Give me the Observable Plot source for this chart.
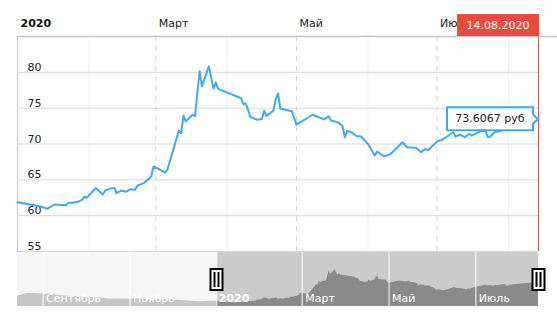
<!DOCTYPE html>
<html><head><meta charset="utf-8">
<script src="https://cdn.jsdelivr.net/npm/d3@7"></script>
<script src="https://cdn.jsdelivr.net/npm/@observablehq/plot@0.6"></script>
<style>
html,body{margin:0;padding:0;background:#fff;}
#wrap{position:relative;width:557px;height:319px;overflow:hidden;font-family:"DejaVu Sans",Verdana,sans-serif;}
#wrap svg{position:absolute;left:0;overflow:visible;}
</style></head><body><div id="wrap"></div>
<script>
// ---- data ----
const dates = ["2020-01-01","2020-01-07","2020-01-11","2020-01-14","2020-01-17","2020-01-22","2020-01-23","2020-01-25","2020-01-27","2020-01-29","2020-01-30","2020-01-31",
"2020-02-01","2020-02-04","2020-02-07","2020-02-08","2020-02-10","2020-02-12","2020-02-13","2020-02-15","2020-02-17","2020-02-19","2020-02-21","2020-02-22","2020-02-25","2020-02-27","2020-02-28","2020-02-29",
"2020-03-03","2020-03-05","2020-03-06","2020-03-11","2020-03-12","2020-03-13","2020-03-14","2020-03-17","2020-03-18","2020-03-20","2020-03-21","2020-03-24","2020-03-26","2020-03-27","2020-03-28",
"2020-04-07","2020-04-08","2020-04-09","2020-04-11","2020-04-14","2020-04-16","2020-04-17","2020-04-18","2020-04-21","2020-04-22","2020-04-23","2020-04-24","2020-04-29",
"2020-05-01","2020-05-08","2020-05-13","2020-05-15","2020-05-16","2020-05-19","2020-05-21","2020-05-22","2020-05-23","2020-05-25","2020-05-27","2020-05-29",
"2020-06-01","2020-06-04","2020-06-05","2020-06-08","2020-06-11","2020-06-16","2020-06-18","2020-06-22","2020-06-24","2020-06-26","2020-06-27",
"2020-07-01","2020-07-03","2020-07-06","2020-07-08","2020-07-09","2020-07-11","2020-07-13","2020-07-15","2020-07-16","2020-07-20","2020-07-22","2020-07-23","2020-07-24","2020-07-26","2020-07-28","2020-07-31",
"2020-08-04","2020-08-07","2020-08-11","2020-08-13","2020-08-14"];
const values = [61.88,61.51,61.28,60.96,61.56,61.46,61.79,61.79,61.93,62.21,62.67,62.49,
62.85,63.83,62.95,63.51,63.74,63.88,63.13,63.51,63.33,63.69,63.61,64.2,64.58,65.14,65.46,66.86,
66.39,66.0,66.4,71.88,71.5,73.97,73.17,74.07,73.9,80.15,78.05,80.83,77.73,78.6,77.69,
76.38,75.53,75.68,73.79,73.37,73.5,74.66,73.9,74.66,76.23,77.04,74.94,74.58,
72.71,74.08,73.44,73.87,73.27,73.02,72.5,70.94,71.83,71.6,71.11,71.04,
70.02,68.39,68.95,68.25,68.63,70.24,69.55,69.46,68.85,69.32,69.09,
70.37,70.55,71.18,71.64,71.04,71.32,70.94,71.42,71.18,71.78,71.88,70.94,71.04,71.64,71.78,72.2,
72.4,72.6,72.9,73.2,73.6067];
const navDates = ["2019-08-14","2019-08-21","2019-08-28","2019-09-05","2019-09-17","2019-10-01","2019-10-10","2019-10-17","2019-11-01","2019-11-08","2019-11-15","2019-11-25","2019-12-01","2019-12-10","2019-12-20","2019-12-27"];
const navValues = [65.1,66.6,66.4,66.1,65.1,64.4,64.0,63.3,63.2,63.5,62.6,62.9,62.7,62.2,61.6,61.9];
const yTicks = [55,60,65,70,75,80];
const monthTicks = ["2020-03-01","2020-05-01","2020-07-01"];
const monthLabels = ["Март","Май","Июль"];
const yearTick = "2020-01-01";
const yearLabel = "2020";
const minorTicks = ["2020-02-01","2020-04-01","2020-06-01","2020-08-01"];
const navTicks = ["2019-09-01","2019-11-01","2020-03-01","2020-05-01","2020-07-01"];
const navLabels = ["Сентябрь","Ноябрь","Март","Май","Июль"];
const unit = "руб";
const lastLabel = "14.08.2020";

// ---- build ----
const parse = d3.utcParse("%Y-%m-%d");
const data = dates.map((d,i)=>({date: parse(d), value: values[i]}));
const last = data[data.length-1];
const xDomain = [parse("2020-01-01"), parse("2020-08-14")];
const FONT = "DejaVu Sans, Verdana, sans-serif";
const LINE = "#41aaea", RED = "#e84c3d";

const main = Plot.plot({
  width: 557, height: 252, marginTop: 36, marginLeft: 17, marginRight: 19, marginBottom: 1,
  x: {type: "utc", domain: xDomain, axis: null},
  y: {domain: [55, 85], axis: null},
  style: {fontFamily: FONT, fontSize: "11px", background: "transparent", overflow: "visible"},
  marks: [
    Plot.ruleX(minorTicks.map(parse), {stroke: "#f1f1f1"}),
    Plot.ruleX(monthTicks.map(parse), {stroke: "#d4d4d4", strokeDasharray: "5,5"}),
    Plot.ruleY(yTicks, {stroke: "#d8d8d8"}),
    Plot.ruleX([xDomain[0]], {stroke: "#cfcfcf"}),
    Plot.text(yTicks, {x: xDomain[0], y: d => d, text: d => String(d), dx: 10, dy: -1.5, textAnchor: "start", lineAnchor: "bottom", fill: "#222"}),
    Plot.text([parse(yearTick)], {x: d => d, frameAnchor: "top", dy: -9.5, dx: 3, text: () => yearLabel, textAnchor: "start", lineAnchor: "bottom", fontWeight: "bold", fill: "#111"}),
    Plot.text(monthTicks.map(parse), {x: d => d, frameAnchor: "top", dy: -9.5, dx: 3, text: (d, i) => monthLabels[i], textAnchor: "start", lineAnchor: "bottom", fill: "#222"}),
    Plot.lineY(data, {x: "date", y: "value", stroke: LINE, strokeWidth: 2}),
    Plot.ruleX([xDomain[1]], {stroke: RED})
  ]
});
main.style.top = "0px";

// overlays positioned through the chart's own scales
{
  const sx = main.scale("x"), sy = main.scale("y");
  const px = sx.apply(last.date), py = sy.apply(last.value);
  const s = d3.select(main);
  const topY = sy.apply(85);
  s.append("line").attr("x1", sx.apply(xDomain[0])).attr("x2", 557).attr("y1", topY + 0.5).attr("y2", topY + 0.5)
    .attr("stroke", "#c4c4c4").attr("stroke-width", 1.5);
  // date label
  const g = s.append("g");
  g.append("rect").attr("x", px - 81).attr("y", topY - 22).attr("width", 82).attr("height", 22).attr("fill", RED);
  g.append("text").attr("x", px - 40).attr("y", topY - 7).attr("text-anchor", "middle").attr("fill", "#fff")
    .attr("font-family", FONT).attr("font-size", 11).text(lastLabel);
  // value tooltip
  const x0 = px - 91, x1 = px - 5, y0 = py - 10.5, y1 = py + 12.5, cy = py + 1.5;
  const t = s.append("g");
  t.append("path").attr("d", `M${x0},${y0}H${x1}V${cy-4.5}L${px},${cy}L${x1},${cy+4.5}V${y1}H${x0}Z`)
    .attr("fill", "#fff").attr("stroke", LINE).attr("stroke-width", 2).attr("stroke-linejoin", "miter");
  t.append("text").attr("x", (x0 + x1) / 2).attr("y", py + 4.5).attr("text-anchor", "middle").attr("fill", "#222")
    .attr("font-family", FONT).attr("font-size", 11).text(last.value.toFixed(4) + " " + unit);
}

// ---- navigator ----
const navData = navDates.map((d,i)=>({date: parse(d), value: navValues[i]})).concat(data);
const navX = [parse("2019-08-14"), parse("2020-08-14")];
const split = parse(yearTick);
const yLo = 58.8, yHi = 91.15;
const nav = Plot.plot({
  width: 557, height: 54, marginTop: 0, marginBottom: 0, marginLeft: 17, marginRight: 19,
  x: {type: "utc", domain: navX, axis: null},
  y: {domain: [yLo, yHi], axis: null},
  style: {fontFamily: FONT, fontSize: "11px", background: "transparent", overflow: "visible"},
  marks: [
    Plot.rect([{a: navX[0], b: split}], {x1: "a", x2: "b", y1: yLo, y2: yHi, fill: "#f6f6f6"}),
    Plot.rect([{a: split, b: navX[1]}], {x1: "a", x2: "b", y1: yLo, y2: yHi, fill: "#cbcbcb"}),
    Plot.areaY(navData.filter(d => d.date <= split), {x: "date", y1: yLo, y2: "value", fill: "#c6c6c6"}),
    Plot.areaY(navData.filter(d => d.date >= split), {x: "date", y1: yLo, y2: "value", fill: "#8a8a8a"}),
    Plot.ruleX(navTicks.map(parse).concat([split]), {stroke: "#fff"}),
    Plot.text(navTicks.map(parse), {x: d => d, frameAnchor: "bottom", dy: -4.5, dx: 3, text: (d, i) => navLabels[i], textAnchor: "start", lineAnchor: "bottom", fill: "#fff"}),
    Plot.text([split], {x: d => d, frameAnchor: "bottom", dy: -4.5, dx: 2, text: () => yearLabel, textAnchor: "start", lineAnchor: "bottom", fill: "#fff", fontWeight: "bold"})
  ]
});
nav.style.top = "252px";
{
  const sx = nav.scale("x");
  const s = d3.select(nav);
  for (const d of [split, navX[1]]) {
    const cx = Math.round(sx.apply(d)) + 0.5;
    const h = s.append("g");
    h.append("rect").attr("x", cx - 6).attr("y", 17).attr("width", 12).attr("height", 21)
      .attr("fill", "#fff").attr("stroke", "#000").attr("stroke-width", 2);
    h.append("line").attr("x1", cx - 2).attr("x2", cx - 2).attr("y1", 20).attr("y2", 35).attr("stroke", "#000").attr("stroke-width", 2);
    h.append("line").attr("x1", cx + 2).attr("x2", cx + 2).attr("y1", 20).attr("y2", 35).attr("stroke", "#000").attr("stroke-width", 2);
  }
}

const wrap = document.getElementById("wrap");
wrap.appendChild(main);
wrap.appendChild(nav);
</script>
</body></html>
